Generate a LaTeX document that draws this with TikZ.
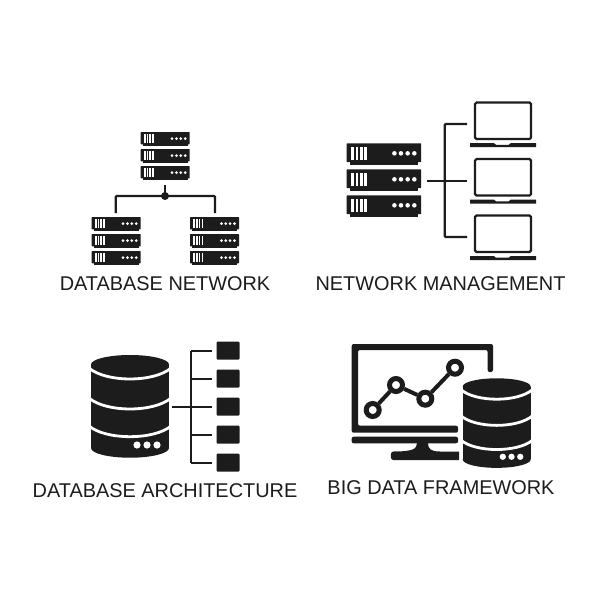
\documentclass[tikz,border=0pt]{standalone}
\usepackage{fontspec}
\setmainfont{Liberation Sans}
\definecolor{inkblack}{HTML}{1C1C1C}
\tikzset{
  wire/.style={draw=inkblack,line width=2.2pt,rounded corners=1pt},
  caption/.style={text=inkblack,font=\fontsize{19.9}{22}\selectfont,inner sep=0pt},
  lapscreen/.style={draw=inkblack,line width=2.2pt,rounded corners=1.5pt,minimum width=56pt,minimum height=36.5pt,inner sep=0pt},
  boxleaf/.style={fill=inkblack,rounded corners=1pt,minimum width=23pt,minimum height=18pt,inner sep=0pt},
  ring/.style={circle,draw=inkblack,fill=white,line width=5pt,minimum size=13pt,inner sep=0pt},
  % one server unit, origin at its top left corner
  serverunit/.pic={
    \fill[inkblack,rounded corners=.6pt] (0,0) rectangle (49,12.4);
    \fill[inkblack] (2,12) rectangle (47,14.3);
    \foreach \x in {3.1,5.9,8.7,11.5}
      \fill[white] (\x,2.2) rectangle ++(1.7,8.8);
    \foreach \x in {31.4,35.7,40.1,44.5}
      \fill[white] (\x,6.6) circle (1.5);
  },
  % database drum, origin at the middle of its top edge
  drum/.pic={
    \fill[inkblack] (0,9.5) ellipse [x radius=39,y radius=9.5];
    \fill[inkblack] (-39,9.5) rectangle (39,93);
    \fill[inkblack] (0,93) ellipse [x radius=39,y radius=9.7];
    \foreach \y/\d in {13/11,43/11,71/10.7}
      \draw[white,line width=2.8pt] (-41,\y) .. controls (-24,\y+\d*1.33) and (24,\y+\d*1.33) .. (41,\y);
    \foreach \x in {7,17,27}
      \fill[white] (\x,90) circle (3.6);
  }
}

\begin{document}
\begin{tikzpicture}[x=1pt,y=-1pt]
\useasboundingbox (0,0) rectangle (600,600);
\fill[white] (0,0) rectangle (600,600);

% database network
\foreach \y in {132,149,166}
  \pic at (140.7,\y) {serverunit};
\foreach \y in {217,234,251}{
  \pic at (91.7,\y) {serverunit};
  \pic at (190,\y) {serverunit};
}
\coordinate (dnstem) at (165,185);
\coordinate (dnhub) at (165,196);
\coordinate (dnleft) at (115.7,213);
\coordinate (dnright) at (215,213);
\draw[wire] (dnleft) |- (dnhub) -| (dnright);
\draw[wire] (dnstem) -- (dnhub);
\node[circle,fill=inkblack,minimum size=8pt,inner sep=0pt] (dndot) at (dnhub) {};
\node[caption] (dnlabel) at (165,284) {DATABASE NETWORK};

% network management
\foreach \y in {143.3,169.3,195.3}
  \pic[scale=1.52] at (346.7,\y) {serverunit};
\coordinate (nmstem) at (426.7,180.7);
\coordinate (nmhub) at (444.7,180.7);
\coordinate (nmmid) at (467,180.7);
\coordinate (nmtop) at (467,124);
\coordinate (nmbot) at (467,237);
\draw[wire] (nmtop) -| (nmhub) |- (nmbot);
\draw[wire] (nmstem) -- (nmmid);
\foreach \i/\y in {1/120.8,2/177.3,3/233.7}{
  \node[lapscreen] (lap\i) at (503,\y) {};
  \fill[inkblack] (470,\y+22.4) -- (494,\y+22.4) -- (496,\y+24) -- (508.7,\y+24) -- (510.7,\y+22.4)
    -- (536,\y+22.4) -- (536,\y+26.4) -- (470,\y+26.4) -- cycle;
}
\node[caption] (nmlabel) at (440.5,284) {NETWORK MANAGEMENT};

% database architecture
\pic at (130,355) {drum};
\coordinate (dastem) at (172.3,406.7);
\coordinate (dahub) at (191,406.7);
\foreach \i/\y in {1/350.5,2/378.5,3/406.7,4/434.7,5/462.7}{
  \node[boxleaf] (leaf\i) at (228,\y) {};
  \coordinate (dabus\i) at (191,\y);
  \draw[wire,line width=2pt,shorten >=4.5pt] (dabus\i) -- (leaf\i.west);
}
\draw[wire,line width=2pt] (dabus1) -- (dabus5);
\draw[wire,line width=2pt] (dastem) -- (dahub);
\node[caption] (dalabel) at (165,491) {DATABASE ARCHITECTURE};

% big data framework
\fill[inkblack,rounded corners=2pt] (351.7,344) -- (493,344) -- (493,372) -- (487.7,372) -- (487.7,350)
  -- (358,350) -- (358,425.7) -- (458,425.7) -- (458,432.7) -- (351.7,432.7) -- cycle;
\fill[inkblack,rounded corners=2pt] (351.7,436.7) -- (458,436.7) -- (458,443.3) -- (351.7,443.3) -- cycle;
\fill[inkblack] (417,443) .. controls (417,449) and (413,451.5) .. (393,451.5)
  .. controls (390,451.5) and (390,460) .. (393,460) -- (459,460) -- (459,451.5) -- (440,451.5)
  .. controls (431,451.5) and (428,449) .. (428,443) -- cycle;
\node[ring] (pt1) at (372.7,410) {};
\node[ring] (pt2) at (396,385) {};
\node[ring] (pt3) at (425.3,398.7) {};
\node[ring] (pt4) at (455,367.7) {};
\draw[inkblack,line width=4pt] (pt1) -- (pt2);
\draw[inkblack,line width=4pt] (pt2) -- (pt3);
\draw[inkblack,line width=4pt] (pt3) -- (pt4);
\pic[scale=.872] at (496.7,378.3) {drum};
\node[caption] (bdlabel) at (441,488) {BIG DATA FRAMEWORK};

\end{tikzpicture}
\end{document}
